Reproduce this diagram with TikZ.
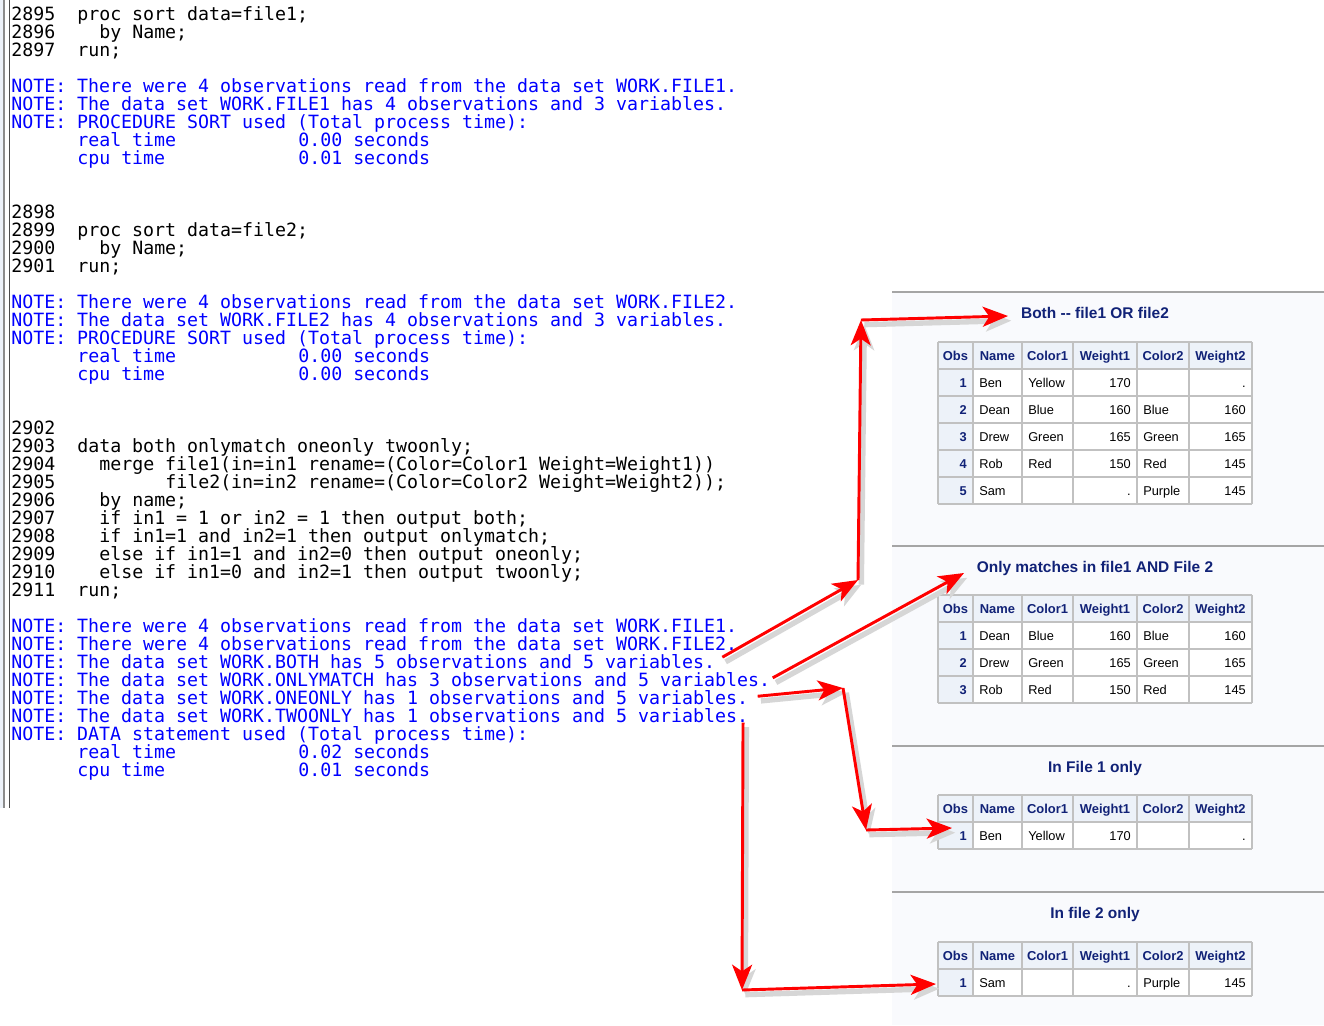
\documentclass[tikz,border=0pt]{standalone}
\usepackage{fontspec}
\setmainfont{Liberation Sans}
\newfontfamily\saslog{DejaVu Sans Mono}
\usetikzlibrary{arrows.meta, positioning}
\definecolor{sasnavy}{RGB}{17, 34, 119}
\definecolor{sasblue}{RGB}{0, 0, 255}
\definecolor{sasgrid}{RGB}{193, 193, 193}
\definecolor{sashead}{RGB}{237, 242, 249}
\definecolor{saspanel}{RGB}{249, 250, 253}
\definecolor{sasrule}{RGB}{165, 165, 165}
\definecolor{sasred}{RGB}{255, 0, 0}

\begin{document}
\begin{tikzpicture}[x=0.75pt, y=-0.75pt,
    logtext/.style={anchor=base west, inner sep=0pt, font=\saslog\fontsize{13.7}{16}\selectfont\frenchspacing},
    notetext/.style={logtext, text=sasblue},
    tabtitle/.style={anchor=base, inner sep=2pt, font=\bfseries\fontsize{11.6}{14}\selectfont, text=sasnavy},
    headtext/.style={anchor=base, inner sep=0pt, font=\bfseries\fontsize{9.7}{12}\selectfont, text=sasnavy},
    obstext/.style={anchor=base east, inner sep=0pt, font=\bfseries\fontsize{9.6}{12}\selectfont, text=sasnavy},
    lefttext/.style={anchor=base west, inner sep=0pt, font=\fontsize{9.6}{12}\selectfont},
    righttext/.style={anchor=base east, inner sep=0pt, font=\fontsize{9.6}{12}\selectfont},
    gridline/.style={draw=sasgrid, line width=0.9pt},
    redarrow/.style={draw=sasred, line width=2.2pt, -{Stealth[length=19pt, width=15pt, inset=5pt]},
        preaction={draw=black!16, line width=4pt, transform canvas={xshift=2.5pt, yshift=-3.5pt}}}]
\fill[white] (0,0) rectangle (1324,1025);
\useasboundingbox (0,0) rectangle (1324,1025);

% log window edge
\fill[sashead] (0,0) rectangle (4,808);
\draw[black!45, line width=0.8pt] (4,0) -- (4,808);
\draw[black!70, line width=0.8pt] (9.5,0) -- (9.5,808);

% program lines
\foreach \num/\row/\col/\txt in {
    2895/0/6/{proc sort data=file1;},
    2896/1/8/{by Name;},
    2897/2/6/{run;},
    2898/11/6/{},
    2899/12/6/{proc sort data=file2;},
    2900/13/8/{by Name;},
    2901/14/6/{run;},
    2902/23/6/{},
    2903/24/6/{data both onlymatch oneonly twoonly;},
    2904/25/8/{merge file1(in=in1 rename=(Color=Color1 Weight=Weight1))},
    2905/26/14/{file2(in=in2 rename=(Color=Color2 Weight=Weight2));},
    2906/27/8/{by name;},
    2907/28/8/{if in1 = 1 or in2 = 1 then output both;},
    2908/29/8/{if in1=1 and in2=1 then output onlymatch;},
    2909/30/8/{else if in1=1 and in2=0 then output oneonly;},
    2910/31/8/{else if in1=0 and in2=1 then output twoonly;},
    2911/32/6/{run;}}{
  \node[logtext] (num\num) at (11,20+18*\row) {\num};
  \node[logtext] (code\num) at (11+11*\col,20+18*\row) {\txt};
}

% notes
\foreach \row/\txt in {
    4/{NOTE: There were 4 observations read from the data set WORK.FILE1.},
    5/{NOTE: The data set WORK.FILE1 has 4 observations and 3 variables.},
    6/{NOTE: PROCEDURE SORT used (Total process time):},
    16/{NOTE: There were 4 observations read from the data set WORK.FILE2.},
    17/{NOTE: The data set WORK.FILE2 has 4 observations and 3 variables.},
    18/{NOTE: PROCEDURE SORT used (Total process time):},
    34/{NOTE: There were 4 observations read from the data set WORK.FILE1.},
    35/{NOTE: There were 4 observations read from the data set WORK.FILE2.},
    36/{NOTE: The data set WORK.BOTH has 5 observations and 5 variables.},
    37/{NOTE: The data set WORK.ONLYMATCH has 3 observations and 5 variables.},
    38/{NOTE: The data set WORK.ONEONLY has 1 observations and 5 variables.},
    39/{NOTE: The data set WORK.TWOONLY has 1 observations and 5 variables.},
    40/{NOTE: DATA statement used (Total process time):}}
  \node[notetext] (note\row) at (11,20+18*\row) {\txt};

% timings
\foreach \row/\kind/\secs in {7/real/0.00, 8/cpu/0.01, 19/real/0.00, 20/cpu/0.00, 41/real/0.02, 42/cpu/0.01}{
  \node[notetext] (time\row) at (77,20+18*\row) {\kind\ time};
  \node[notetext] (secs\row) at (298,20+18*\row) {\secs\ seconds};
}

% results panel
\fill[saspanel] (892,292) rectangle (1324,1025);
\foreach \y in {292,546,746,892}
  \draw[sasrule, line width=1.2pt] (892,\y) -- (1324,\y);

\node[tabtitle] (tBoth) at (1095,318.5) {Both {-}{-} file1 OR file2};
\node[tabtitle] (tMatch) at (1095,572.5) {Only matches in file1 AND File 2};
\node[tabtitle] (tOne) at (1095,772.5) {In File 1 only};
\node[tabtitle] (tTwo) at (1095,918.5) {In file 2 only};

% table frames
\foreach \top/\n in {342/5, 595/3, 795/1, 942/1}{
  \fill[white] (938,\top) rectangle (1252,\top+27+27*\n);
  \fill[sashead] (938,\top) rectangle (1252,\top+27);
  \fill[sashead] (938,\top) rectangle (973,\top+27+27*\n);
  \draw[gridline] (938,\top) -- (1252,\top);
  \foreach \k in {0,...,\n}
    \draw[gridline] (938,\top+27+27*\k) -- (1252,\top+27+27*\k);
  \foreach \xc in {938,973,1022,1073,1137,1189,1252}
    \draw[gridline] (\xc,\top) -- (\xc,\top+27+27*\n);
  \foreach \xa/\xb/\head in {938/973/Obs, 973/1022/Name, 1022/1073/Color1, 1073/1137/Weight1, 1137/1189/Color2, 1189/1252/Weight2}
    \node[headtext] (hd\top\head) at ({(\xa+\xb)/2},\top+18) {\head};
}

% table rows
\foreach \top/\r/\nm/\ca/\wa/\cb/\wb in {
    342/1/Ben/Yellow/170//., 342/2/Dean/Blue/160/Blue/160, 342/3/Drew/Green/165/Green/165,
    342/4/Rob/Red/150/Red/145, 342/5/Sam//./Purple/145,
    595/1/Dean/Blue/160/Blue/160, 595/2/Drew/Green/165/Green/165, 595/3/Rob/Red/150/Red/145,
    795/1/Ben/Yellow/170//.,
    942/1/Sam//./Purple/145}{
  \node[obstext] (obs\top-\r) at (967,\top+18+27*\r) {\r};
  \node[lefttext] (name\top-\r) at (979,\top+18+27*\r) {\nm};
  \node[lefttext] (colA\top-\r) at (1028,\top+18+27*\r) {\ca};
  \node[righttext] (wtA\top-\r) at (1131,\top+18+27*\r) {\wa};
  \node[lefttext] (colB\top-\r) at (1143,\top+18+27*\r) {\cb};
  \node[righttext] (wtB\top-\r) at (1246,\top+18+27*\r) {\wb};
}

% arrows from the log to the tables
\coordinate (bothBend1) at (858,580);
\coordinate (bothBend2) at (861,320);
\coordinate (bothTip) at (1008,316);
\coordinate (matchTip) at (964,573);
\coordinate (oneBend1) at (843,688);
\coordinate (oneBend2) at (866,830);
\coordinate (oneTip) at (952,828);
\coordinate (twoStart) at ([xshift=-4pt]note39.south east);
\coordinate (twoBend) at (742,990);
\coordinate (twoTip) at (936,984);

\draw[redarrow, shorten <=6pt] (note36.east) -- (bothBend1);
\draw[redarrow] (bothBend1) -- (bothBend2);
\draw[redarrow] (bothBend2) -- (bothTip);
\draw[redarrow, shorten <=2pt] (note37.east) -- (matchTip);
\draw[redarrow, shorten <=7pt] (note38.east) -- (oneBend1);
\draw[redarrow] (oneBend1) -- (oneBend2);
\draw[redarrow] (oneBend2) -- (oneTip);
\draw[redarrow] (twoStart) -- (twoBend);
\draw[redarrow] (twoBend) -- (twoTip);
\end{tikzpicture}
\end{document}
